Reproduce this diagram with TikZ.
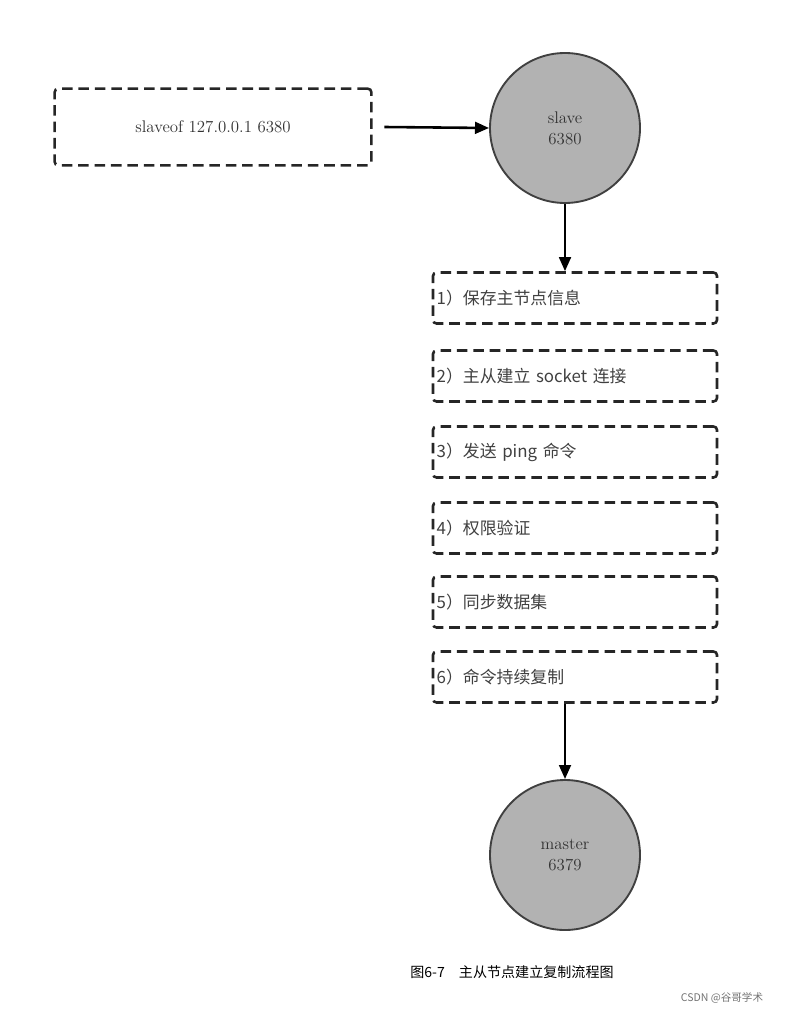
\documentclass[tikz,border=0pt]{standalone}
\usepackage{fontspec}
\newfontfamily\cjk{Noto Sans CJK SC}
\usetikzlibrary{arrows.meta}
\begin{document}
\begin{tikzpicture}[x=0.03cm,y=-0.03cm,
  box/.style={draw=black!85,line width=2.2pt,dash pattern=on 9pt off 5pt,rounded corners=3pt,inner sep=0pt},
  circ/.style={circle,draw=black!75,line width=1.6pt,fill=black!30,minimum size=4.5cm,align=center,font=\Large,text=black!80},
  arr/.style={-{Triangle[length=12pt,width=10pt]},line width=2.2pt},
  stepbox/.style={box,minimum width=8.52cm,minimum height=1.53cm,text width=8.3cm,align=left,font=\cjk\Large,text=black!75}]
\useasboundingbox (0,0) rectangle (789,1018);
\node[box,minimum width=9.5cm,minimum height=2.3cm,font=\Large,text=black!80] (cmd) at (213,127) {slaveof 127.0.0.1 6380};
\node[circ] (slave) at (565,128) {slave\\6380};
\node[stepbox] (s1) at (575,298) {1）保存主节点信息};
\node[stepbox] (s2) at (575,376) {2）主从建立 socket 连接};
\node[stepbox] (s3) at (575,452) {3）发送 ping 命令};
\node[stepbox] (s4) at (575,528) {4）权限验证};
\node[stepbox] (s5) at (575,602) {5）同步数据集};
\node[stepbox] (s6) at (575,677) {6）命令持续复制};
\node[circ] (master) at (565,855) {master\\6379};
\draw[arr] ([xshift=10pt]cmd.east) -- (slave.west);
\draw[arr] (slave.south) -- (s1.north -| slave.south);
\draw[arr] (s6.south -| master.north) -- (master.north);
\node[font=\cjk\large] (cap) at (512,972) {图6-7\quad 主从节点建立复制流程图};
\node[font=\cjk\small,text=black!55] (wm) at (722,998) {CSDN @谷哥学术};
\end{tikzpicture}
\end{document}
